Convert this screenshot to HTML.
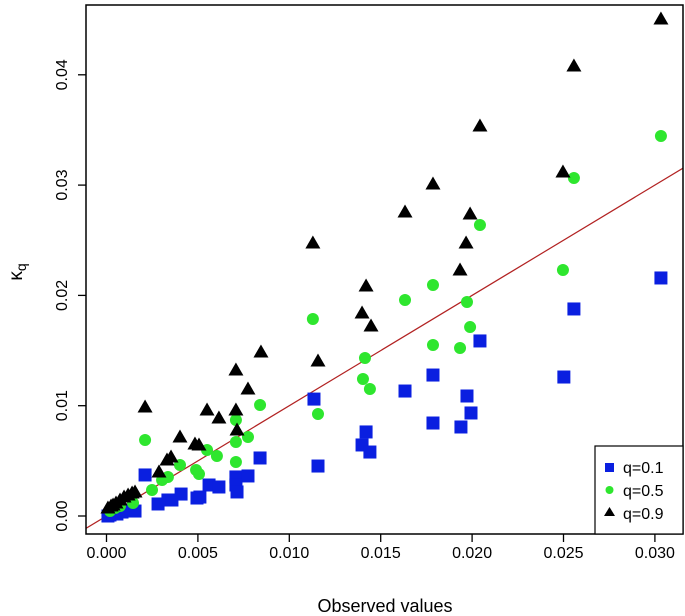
<!DOCTYPE html>
<html><head><meta charset="utf-8"><style>
html,body{margin:0;padding:0;background:#fff;}
svg{display:block;font-family:"Liberation Sans",sans-serif;}
</style></head><body>
<svg id="chart" width="685" height="616"></svg>
<script>
const xTicks=[0,0.005,0.010,0.015,0.020,0.025,0.030];
const xTickLabels=["0.000","0.005","0.010","0.015","0.020","0.025","0.030"];
const yTicks=[0,0.01,0.02,0.03,0.04];
const yTickLabels=["0.00","0.01","0.02","0.03","0.04"];
// values in thousandths
const q1x=[0.57,0.47,0.19,0.08,0.36,0.85,1.29,1.56,2.11,2.82,3.36,3.58,4.08,4.95,5.11,5.61,6.15,7.08,7.08,7.14,7.74,8.40,11.35,11.57,13.98,14.20,14.41,16.33,17.86,17.86,19.39,19.72,19.94,20.43,25.02,25.57,30.33];
const q1y=[0.18,0.36,0.09,0,0.18,0.36,0.54,0.45,3.72,1.09,1.45,1.45,1.99,1.63,1.72,2.81,2.63,3.54,2.81,2.18,3.63,5.26,10.6,4.53,6.44,7.62,5.8,11.33,12.78,8.43,8.07,10.88,9.34,15.87,12.6,18.77,21.58];
const q5x=[0.19,0.47,0.74,1.45,2.11,2.49,3.04,3.36,4.02,4.90,5.06,5.5,6.04,7.08,7.08,7.08,7.74,8.40,11.29,11.57,14.03,14.14,14.41,16.33,17.86,17.86,19.34,19.72,19.89,20.43,24.97,25.57,30.33];
const q5y=[0.45,0.73,0.91,1.18,6.89,2.36,3.26,3.54,4.62,4.17,3.81,5.98,5.44,8.70,6.71,4.90,7.16,10.06,17.86,9.25,12.42,14.32,11.51,19.58,20.94,15.50,15.23,19.40,17.13,26.38,22.30,30.64,34.45];
const q9x=[0.08,0.25,0.36,0.52,0.74,0.96,1.18,1.40,1.56,2.11,2.87,3.31,3.53,4.02,4.84,5.06,5.50,6.15,7.08,7.08,7.14,7.74,8.45,11.29,11.57,13.98,14.20,14.47,16.33,17.86,19.34,19.67,19.89,20.43,24.97,25.57,30.33];
const q9y=[0.73,0.91,1.0,1.18,1.45,1.72,1.9,2.09,2.18,9.88,3.99,5.08,5.35,7.16,6.53,6.44,9.61,8.88,13.24,9.61,7.8,11.51,14.87,24.75,14.05,18.40,20.85,17.23,27.56,30.10,22.30,24.75,27.38,35.36,31.19,40.80,45.06];

const NS="http://www.w3.org/2000/svg";
const svg=document.getElementById('chart');
const L=86,R=683,T=5,B=534;
const X=v=>106.5+v*18280;
const Y=v=>516-v*11030;
function mk(tag,attrs,parent){const e=document.createElementNS(NS,tag);for(const k in attrs)e.setAttribute(k,attrs[k]);(parent||svg).appendChild(e);return e;}

const clip=mk('clipPath',{id:'pc'});mk('rect',{x:L,y:T,width:R-L,height:B-T},clip);
const x0=(L-106.5)/18280,x1=(R-106.5)/18280;
const line=mk('line',{x1:X(x0),y1:Y(x0),x2:X(x1),y2:Y(x1),stroke:'#b22222','stroke-width':1.2,'clip-path':'url(#pc)'});



const g1=mk('g',{});
q1x.forEach((v,i)=>{const r=mk('rect',{x:X(v/1000)-6.5,y:Y(q1y[i]/1000)-6.5,width:13,height:13,fill:'#0a1fe0'},g1);

});
const g5=mk('g',{});
q5x.forEach((v,i)=>{const c=mk('circle',{cx:X(v/1000),cy:Y(q5y[i]/1000),r:6,fill:'#2ee62e'},g5);

});
const g9=mk('g',{});
q9x.forEach((v,i)=>{const cx=X(v/1000),cy=Y(q9y[i]/1000);
const p=mk('polygon',{points:`${cx},${cy-7.5} ${cx-7.5},${cy+5.5} ${cx+7.5},${cy+5.5}`,fill:'#000'},g9);

});

const fr=mk('rect',{x:L,y:T,width:R-L,height:B-T,fill:'none',stroke:'#000','stroke-width':1.5});



xTicks.forEach((v,i)=>{mk('line',{x1:X(v),y1:B,x2:X(v),y2:B+8,stroke:'#000','stroke-width':1.3});
const t=mk('text',{x:X(v),y:B+24,'text-anchor':'middle','font-size':16,fill:'#000'});t.textContent=xTickLabels[i];

});
yTicks.forEach((v,i)=>{mk('line',{x1:L,y1:Y(v),x2:L-8,y2:Y(v),stroke:'#000','stroke-width':1.3});
const t=mk('text',{x:0,y:0,'text-anchor':'middle','font-size':16,fill:'#000',transform:`translate(${L-19},${Y(v)}) rotate(-90)`});t.textContent=yTickLabels[i];

});

const xt=mk('text',{x:385,y:612,'text-anchor':'middle','font-size':18,fill:'#000'});xt.textContent='Observed values';


const yt=mk('text',{x:0,y:0,'text-anchor':'middle','font-size':19,fill:'#000',transform:'translate(22,272) rotate(-90)'});
yt.innerHTML='κ<tspan font-size="14" dy="4">q</tspan>';



const lg=mk('g',{});
mk('rect',{x:595,y:446,width:88,height:88,fill:'#fff',stroke:'#000','stroke-width':1.2},lg);
mk('rect',{x:605,y:463,width:9,height:9,fill:'#0a1fe0'},lg);
mk('circle',{cx:609.5,cy:490,r:4,fill:'#2ee62e'},lg);
mk('polygon',{points:'609.5,507 604,516 615,516',fill:'#000'},lg);
[['q=0.1',473],['q=0.5',496],['q=0.9',519]].forEach(a=>{const t=mk('text',{x:623,y:a[1],'font-size':16,fill:'#000'},lg);t.textContent=a[0];

});
</script>
</body></html>
